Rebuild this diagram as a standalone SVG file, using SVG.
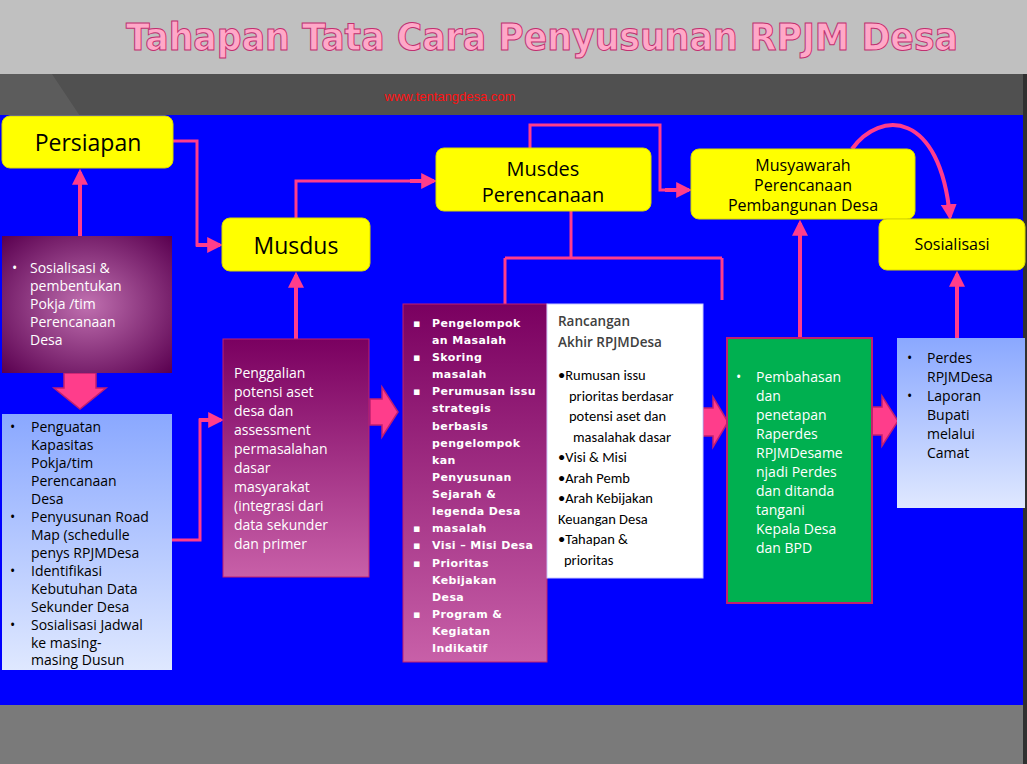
<svg xmlns="http://www.w3.org/2000/svg" width="1027" height="764" viewBox="0 0 1027 764">
<defs>
<linearGradient id="pur" x1="0" y1="0" x2="0" y2="1"><stop offset="0" stop-color="#7a0060"/><stop offset="1" stop-color="#c860a8"/></linearGradient>
<radialGradient id="pur1" cx="0.5" cy="0.5" r="0.7"><stop offset="0" stop-color="#c070b0"/><stop offset="1" stop-color="#5a0050"/></radialGradient>
<linearGradient id="lb" x1="0" y1="0" x2="0" y2="1"><stop offset="0" stop-color="#8aa8ff"/><stop offset="1" stop-color="#dfe8ff"/></linearGradient>
<marker id="ah" viewBox="0 0 10 10" refX="8" refY="5" markerWidth="4" markerHeight="4" orient="auto"><path d="M0,0L10,5L0,10z" fill="#ff3d8b"/></marker>
<style>
.y{fill:#ffff00;stroke:#d8d800;stroke-width:1}
.c{stroke:#ff3d8b;stroke-width:3;fill:none}
.ca{stroke:#ff3d8b;stroke-width:4;fill:none;marker-end:url(#ah)}
.fa{fill:#ff3d8b;stroke:#c02070;stroke-width:1.5}
.t{font-family:"Open Sans","DejaVu Sans",sans-serif;fill:#000}
.w{font-family:"Open Sans","DejaVu Sans",sans-serif;fill:#fff;font-size:14px}
.wb{font-family:"DejaVu Sans",sans-serif;fill:#fff;font-size:11px;font-weight:bold;letter-spacing:0.4px}
.k{font-family:"Open Sans","DejaVu Sans",sans-serif;fill:#000;font-size:14px}
</style>
</defs>
<rect x="0" y="0" width="1027" height="764" fill="#c0c0c0"/>
<rect x="0" y="74" width="1027" height="42" fill="#505050"/>
<polygon points="0,74 52,74 80,116 0,116" fill="#5c5c5c"/>
<rect x="0" y="705" width="1027" height="59" fill="#7a7a7a"/>
<rect x="0" y="115" width="1024" height="590" fill="#0000ff"/>
<rect x="1023" y="74" width="4" height="690" fill="#303030"/>
<text x="126" y="50" textLength="832" lengthAdjust="spacingAndGlyphs" font-family="'DejaVu Sans',sans-serif" font-size="37" font-weight="bold" fill="#ffa8c8" stroke="#c03070" stroke-width="1">Tahapan Tata Cara Penyusunan RPJM Desa</text>
<text x="450" y="101" text-anchor="middle" font-family="'Liberation Sans Narrow','Liberation Sans',sans-serif" font-size="13" fill="#ff1010">www.tentangdesa.com</text>
<g id="connectors">
<path class="ca" d="M80,236V172"/>
<path class="c" d="M173,141H197V245H210"/><path class="ca" d="M196,245H220"/>
<path class="c" d="M296,218V181H420"/><path class="ca" d="M410,181H434"/>
<path class="ca" d="M296,339V275"/>
<path class="c" d="M530,148V125H660V190H675"/><path class="ca" d="M665,190H689"/>
<path class="c" d="M571,211V258M505,258H722M505,258V304M722,258V300"/>
<path class="ca" d="M852,149C880,110 940,110 950,217"/>
<path class="ca" d="M800,338V223"/>
<path class="ca" d="M957,338V274"/>
<path class="c" d="M172,540H200V420H210"/><path class="ca" d="M199,420H221"/>
<polygon class="fa" points="64,373 96,373 96,388 106,388 80,409 54,388 64,388"/>
<polygon class="fa" points="370,399 382,399 382,387 398,412 382,437 382,425 370,425"/>
<polygon class="fa" points="703,408 713,408 713,397 728,422 713,447 713,436 703,436"/>
<polygon class="fa" points="872,407 882,407 882,396 898,421 882,446 882,435 872,435"/>
</g>
<g id="persiapan"><rect class="y" x="2" y="116" width="171" height="52" rx="8"/><text class="t" x="88" y="151" font-size="23" text-anchor="middle">Persiapan</text></g>
<g id="musdus"><rect class="y" x="222" y="218" width="148" height="53" rx="8"/><text class="t" x="296" y="254" font-size="23" text-anchor="middle">Musdus</text></g>
<g id="musdes"><rect class="y" x="436" y="148" width="215" height="63" rx="8"/><text class="t" x="543" y="176" font-size="20" text-anchor="middle">Musdes</text><text class="t" x="543" y="202" font-size="20" text-anchor="middle">Perencanaan</text></g>
<g id="musyawarah"><rect class="y" x="691" y="149" width="224" height="70" rx="8"/><text class="t" x="803" y="171" font-size="16" text-anchor="middle">Musyawarah</text><text class="t" x="803" y="191" font-size="16" text-anchor="middle">Perencanaan</text><text class="t" x="803" y="211" font-size="16" text-anchor="middle">Pembangunan Desa</text></g>
<g id="sosialisasi"><rect class="y" x="879" y="219" width="146" height="51" rx="8"/><text class="t" x="952" y="250" font-size="16" text-anchor="middle">Sosialisasi</text></g>
<g id="sos-pembentukan"><rect x="2" y="236" width="170" height="137" fill="url(#pur1)"/>
<text class="w"><tspan x="12" y="273">•</tspan><tspan x="30" y="273">Sosialisasi &amp;</tspan><tspan x="30" y="291">pembentukan</tspan><tspan x="30" y="309">Pokja /tim</tspan><tspan x="30" y="327">Perencanaan</tspan><tspan x="30" y="345">Desa</tspan></text></g>
<g id="penguatan"><rect x="2" y="414" width="170" height="256" fill="url(#lb)"/>
<text class="k" font-size="13.5"><tspan x="10" y="432">•</tspan><tspan x="31" y="432">Penguatan</tspan><tspan x="31" y="450">Kapasitas</tspan><tspan x="31" y="468">Pokja/tim</tspan><tspan x="31" y="486">Perencanaan</tspan><tspan x="31" y="504">Desa</tspan><tspan x="10" y="522">•</tspan><tspan x="31" y="522">Penyusunan Road</tspan><tspan x="31" y="540">Map (schedulle</tspan><tspan x="31" y="558">penys RPJMDesa</tspan><tspan x="10" y="576">•</tspan><tspan x="31" y="576">Identifikasi</tspan><tspan x="31" y="594">Kebutuhan Data</tspan><tspan x="31" y="612">Sekunder Desa</tspan><tspan x="10" y="630">•</tspan><tspan x="31" y="630">Sosialisasi Jadwal</tspan><tspan x="31" y="648">ke masing-</tspan><tspan x="31" y="665">masing Dusun</tspan></text></g>
<g id="penggalian"><rect x="223" y="339" width="146" height="238" fill="url(#pur)" stroke="#c02070"/>
<text class="w" font-size="15"><tspan x="234" y="378">Penggalian</tspan><tspan x="234" y="397">potensi aset</tspan><tspan x="234" y="416">desa dan</tspan><tspan x="234" y="435">assessment</tspan><tspan x="234" y="454">permasalahan</tspan><tspan x="234" y="473">dasar</tspan><tspan x="234" y="492">masyarakat</tspan><tspan x="234" y="511">(integrasi dari</tspan><tspan x="234" y="530">data sekunder</tspan><tspan x="234" y="549">dan primer</tspan></text></g>
<g id="pengelompokan"><rect x="403" y="304" width="144" height="358" fill="url(#pur)" stroke="#c02070"/>
<text class="wb"><tspan x="413" y="327">▪</tspan><tspan x="432" y="327">Pengelompok</tspan><tspan x="432" y="344">an Masalah</tspan><tspan x="413" y="361">▪</tspan><tspan x="432" y="361">Skoring</tspan><tspan x="432" y="378">masalah</tspan><tspan x="413" y="395">▪</tspan><tspan x="432" y="395">Perumusan issu</tspan><tspan x="432" y="412">strategis</tspan><tspan x="432" y="430">berbasis</tspan><tspan x="432" y="447">pengelompok</tspan><tspan x="432" y="464">kan</tspan><tspan x="432" y="481">Penyusunan</tspan><tspan x="432" y="498">Sejarah &amp;</tspan><tspan x="432" y="515">legenda Desa</tspan><tspan x="413" y="532">▪</tspan><tspan x="432" y="532">masalah</tspan><tspan x="413" y="549">▪</tspan><tspan x="432" y="549">Visi – Misi Desa</tspan><tspan x="413" y="567">▪</tspan><tspan x="432" y="567">Prioritas</tspan><tspan x="432" y="584">Kebijakan</tspan><tspan x="432" y="601">Desa</tspan><tspan x="413" y="618">▪</tspan><tspan x="432" y="618">Program &amp;</tspan><tspan x="432" y="635">Kegiatan</tspan><tspan x="432" y="652">Indikatif</tspan></text></g>
<g id="rancangan"><rect x="547" y="304" width="156" height="274" fill="#fff" stroke="#c8c8ff"/>
<text font-family="'Open Sans','DejaVu Sans',sans-serif" font-size="13.5" font-weight="600" fill="#404040"><tspan x="558" y="326">Rancangan</tspan><tspan x="558" y="347">Akhir RPJMDesa</tspan></text>
<text font-family="Calibri,Carlito,'Liberation Sans',sans-serif" font-size="14.5" fill="#000"><tspan x="558" y="380">•Rumusan issu</tspan><tspan x="569" y="401">prioritas berdasar</tspan><tspan x="569" y="421">potensi aset dan</tspan><tspan x="573" y="442">masalahak dasar</tspan><tspan x="558" y="462">•Visi &amp; Misi</tspan><tspan x="558" y="483">•Arah Pemb</tspan><tspan x="558" y="503">•Arah Kebijakan</tspan><tspan x="558" y="524">Keuangan Desa</tspan><tspan x="558" y="544">•Tahapan &amp;</tspan><tspan x="564" y="565">prioritas</tspan></text></g>
<g id="pembahasan"><rect x="727" y="338" width="145" height="265" fill="#00b050" stroke="#c02070" stroke-width="2"/>
<text class="w" font-size="15"><tspan x="736" y="382">•</tspan><tspan x="756" y="382">Pembahasan</tspan><tspan x="756" y="401">dan</tspan><tspan x="756" y="420">penetapan</tspan><tspan x="756" y="439">Raperdes</tspan><tspan x="756" y="458">RPJMDesame</tspan><tspan x="756" y="477">njadi Perdes</tspan><tspan x="756" y="496">dan ditanda</tspan><tspan x="756" y="515">tangani</tspan><tspan x="756" y="534">Kepala Desa</tspan><tspan x="756" y="553">dan BPD</tspan></text></g>
<g id="perdes"><rect x="897" y="338" width="128" height="170" fill="url(#lb)"/>
<text class="k" font-size="15"><tspan x="907" y="363">•</tspan><tspan x="927" y="363">Perdes</tspan><tspan x="927" y="382">RPJMDesa</tspan><tspan x="907" y="401">•</tspan><tspan x="927" y="401">Laporan</tspan><tspan x="927" y="420">Bupati</tspan><tspan x="927" y="439">melalui</tspan><tspan x="927" y="458">Camat</tspan></text></g>
</svg>
